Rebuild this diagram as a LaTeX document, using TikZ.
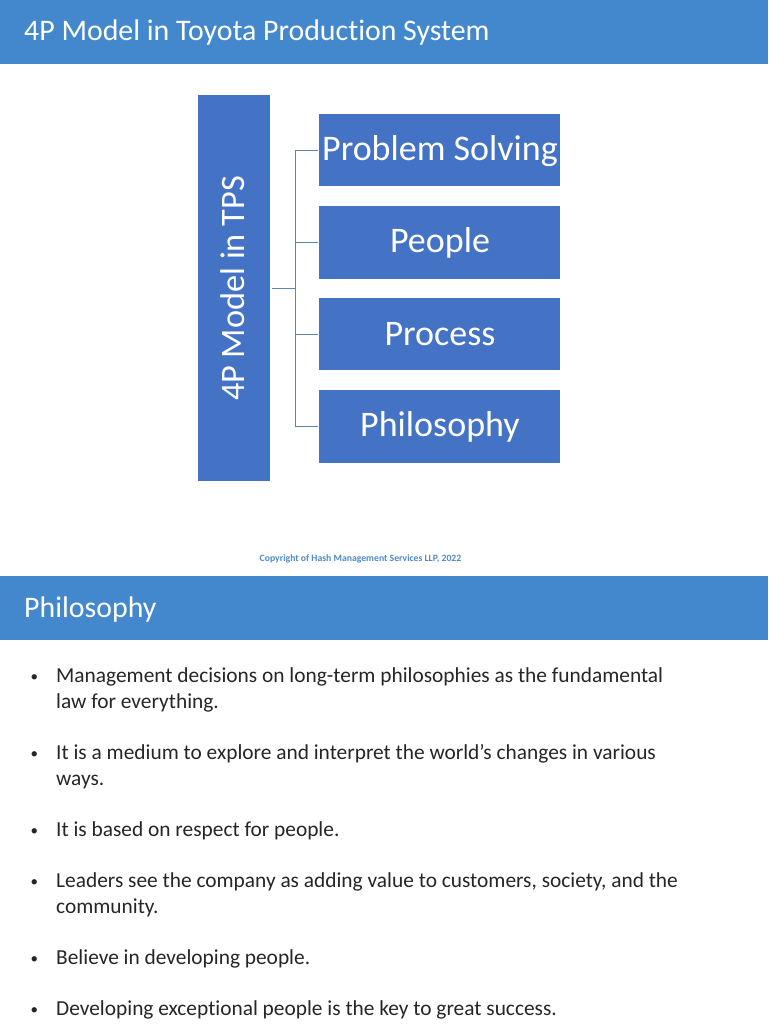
\documentclass[tikz,border=0pt]{standalone}
\usepackage{fontspec}
\setmainfont[RawFeature={-liga}]{Carlito}
\definecolor{band}{HTML}{4388CC}
\definecolor{boxc}{HTML}{4472C4}
\definecolor{linec}{HTML}{5F86B3}
\definecolor{body}{HTML}{262626}
\definecolor{copyc}{HTML}{4F8BCB}
\tikzset{
 x=1pt,y=-1pt,
 band/.style={fill=band,draw=none,minimum width=768pt,inner sep=0pt,outer sep=0pt,anchor=north west},
 bandtext/.style={text=white,font=\fontsize{29.85}{30}\selectfont,anchor=base west,inner sep=0pt},
 catbox/.style={fill=boxc,draw=none,minimum width=240.5pt,minimum height=72.5pt,inner sep=0pt,outer sep=0pt},
 cattext/.style={text=white,font=\fontsize{36}{36}\selectfont,inner sep=0pt},
 rootbox/.style={fill=boxc,draw=none,minimum width=72pt,minimum height=386pt,inner sep=0pt,outer sep=0pt},
 conn/.style={draw=linec,line width=0.9pt},
 bul/.style={text=body,font=\fontsize{21.37}{24}\selectfont,anchor=base west,inner sep=0pt},
 bulmark/.style={text=body,font=\fontsize{15}{15}\selectfont,anchor=base west,inner sep=0pt},
}
\begin{document}
\begin{tikzpicture}
\useasboundingbox (0,0) rectangle (768,1024);
\fill[white] (0,0) rectangle (768,1024);
\node[band,minimum height=64pt] (b1) at (0,0) {};
\node[band,minimum height=64pt] (b2) at (0,576) {};
\node[bandtext] (t1) at (24,41) {4P Model in Toyota Production System};
\node[bandtext] (t2) at (24,617) {Philosophy};
\node[rootbox] (root) at (234,288) {};
\node[text=white,font=\fontsize{34.3}{34}\selectfont,rotate=90,inner sep=0pt] (roott) at (233,288.5) {4P Model in TPS};
\node[catbox] (c1) at (439.5,150) {};
\node[catbox] (c2) at (439.5,242.4) {};
\node[catbox] (c3) at (439.5,334) {};
\node[catbox] (c4) at (439.5,426.4) {};
\node[cattext] at (440,151) {Problem Solving};
\node[cattext] at (440,243) {People};
\node[cattext] at (440,334) {Process};
\node[cattext] at (440,427) {Philosophy};
\coordinate (s) at (272,288);
\coordinate (m) at (295,288);
\draw[conn] (s) -- (m);
\draw[conn] ([xshift=-1.5pt]c1.west) -- (m|-c1.west) -- (m|-c4.west) -- ([xshift=-1.5pt]c4.west);
\draw[conn] ([xshift=-1.5pt]c2.west) -- (m|-c2.west);
\draw[conn] ([xshift=-1.5pt]c3.west) -- (m|-c3.west);
\node[text=copyc,font=\bfseries\fontsize{9.7}{10}\selectfont,inner sep=0pt] (cp) at (360.5,558.5) {Copyright of Hash Management Services LLP, 2022};
\foreach \y/\a/\b in {
 682/{Management decisions on long-term philosophies as the fundamental}/{law for everything.},
 759/{It is a medium to explore and interpret the world’s changes in various}/{ways.},
 836/{It is based on respect for people.}/{},
 887/{Leaders see the company as adding value to customers, society, and the}/{community.},
 964/{Believe in developing people.}/{},
 1015/{Developing exceptional people is the key to great success.}/{}}{
 \node[bulmark] at (30.5,\y-1) {•};
 \node[bul] at (56,\y) {\a};
 \node[bul] at (56,\y+26) {\b};
}
\end{tikzpicture}
\end{document}
